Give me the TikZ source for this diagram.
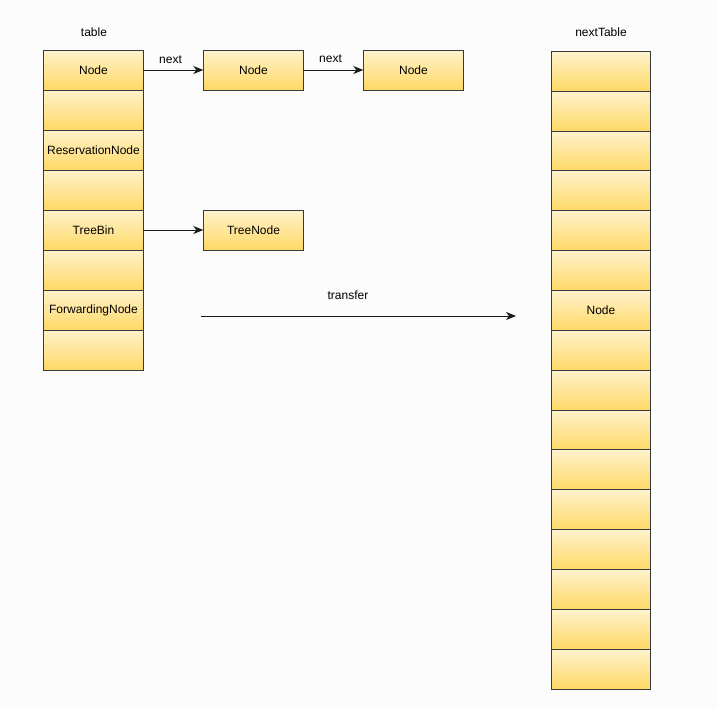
\documentclass[tikz,border=0pt]{standalone}
\usepackage{fontspec}
\setmainfont{Liberation Sans}
\usetikzlibrary{arrows.meta}
\definecolor{cellstroke}{HTML}{36393D}
\definecolor{celltop}{HTML}{FFF2CC}
\definecolor{cellbot}{HTML}{FFD966}
\definecolor{bgcol}{HTML}{FCFCFC}
\definecolor{linecol}{HTML}{1A1A1A}
\begin{document}
\begin{tikzpicture}[x=1pt,y=-1pt,
  cell/.style={draw=cellstroke, line width=0.9pt, top color=celltop, bottom color=cellbot,
    minimum width=99.5pt, minimum height=40pt, inner sep=0pt, font=\fontsize{12}{14}\selectfont},
  rcell/.style={cell, minimum height=39.85pt},
  lbl/.style={inner sep=0pt, font=\fontsize{12}{14}\selectfont},
  conn/.style={draw=linecol, line width=0.9pt, -{Stealth[length=10pt,width=8pt,inset=3pt]}}
]
\fill[bgcol] (0,0) rectangle (718,710);
\useasboundingbox (0,0) rectangle (718,710);
% left table
\foreach \i/\t in {0/Node,1/{},2/ReservationNode,3/{},4/TreeBin,5/{},6/ForwardingNode,7/{}} {
  \node[cell] (t\i) at (93.5,{70+40*\i}) {\t};
}
\node[lbl] (tablelbl) at (94,32) {table};
% right table
\foreach \i in {0,...,15} {
  \ifnum\i=6
    \node[rcell] (n\i) at (601,{71.3+39.85*\i}) {\raisebox{-1.5pt}{Node}};
  \else
    \node[rcell] (n\i) at (601,{71.3+39.85*\i}) {};
  \fi
}
\node[lbl] (nextlbl) at (601,32) {nextTable};
% chain nodes
\node[cell] (a1) at (253.5,70) {Node};
\node[cell] (a2) at (413.5,70) {Node};
\node[cell] (tn) at (253.5,230) {TreeNode};
% connectors
\draw[conn] (t0.east) -- node[lbl, above=6pt, xshift=-3pt] (l1) {next} (a1.west);
\draw[conn] (a1.east) -- node[lbl, above=7pt, xshift=-3pt] (l2) {next} (a2.west);
\draw[conn] (t4.east) -- (tn.west);
\coordinate (trs) at (201,316);
\coordinate (tre) at (516,316);
\draw[conn] (trs) -- (tre);
\node[lbl] (trlbl) at (348,295) {transfer};
\end{tikzpicture}
\end{document}
